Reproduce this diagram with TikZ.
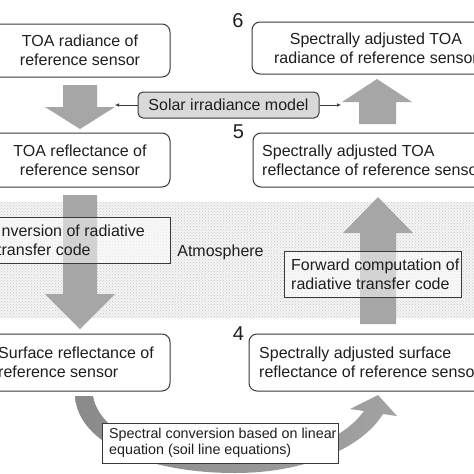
\documentclass[tikz,border=0pt]{standalone}
\usepackage{fontspec}
\setmainfont{Liberation Sans}
\usetikzlibrary{patterns,arrows.meta}
\definecolor{arrowgray}{HTML}{A6A6A6}
\definecolor{boxline}{HTML}{3A3A3A}
\definecolor{textcol}{HTML}{1E1E1E}
\definecolor{solarfill}{HTML}{D9D9D9}
\definecolor{curvedark}{HTML}{8A8A8A}
\definecolor{curvelight}{HTML}{F4F4F4}
\definecolor{curveright}{HTML}{A2A2A2}
\begin{document}
\begin{tikzpicture}[x=1pt,y=-1pt,
  txt/.style={font=\fontsize{16}{19}\selectfont, text=textcol, inner sep=0pt},
  rbox/.style={draw=boxline, line width=1pt, rounded corners=8pt, fill=white, inner sep=0pt},
  sbox/.style={draw=boxline, line width=1pt, fill=white, fill opacity=0.5, inner sep=0pt},
  blockarrow/.style={fill=arrowgray, draw=none},
  numlabel/.style={font=\fontsize{20}{20}\selectfont, text=textcol},
  thinarrow/.style={draw=boxline, line width=0.6pt, -{Latex[length=4pt,width=3.5pt]}}
]
\useasboundingbox (0,0) rectangle (474,474);
\clip (0,0) rectangle (474,474);

% atmosphere band
\fill[gray!9] (0,202) rectangle (474,318);
\fill[pattern=crosshatch dots, pattern color=gray!45] (0,202) rectangle (474,318);

% curved arrow (spectral conversion)
\path[left color=curvedark, middle color=curvelight, right color=curveright, draw=none]
  (75,396) .. controls (78,445) and (150,473) .. (235,473)
  .. controls (305,473) and (362,448) .. (383,414)
  -- (397,416) -- (378,395) -- (350,409) -- (364,411)
  .. controls (343,440) and (295,459) .. (235,460)
  .. controls (160,460) and (100,435) .. (93,396) -- cycle;

% block arrows
\fill[blockarrow] (63,85) -- (97,85) -- (97,107) -- (115,107) -- (80,129) -- (45,107) -- (63,107) -- cycle;
\fill[blockarrow] (63,195) -- (97,195) -- (97,294) -- (115,294) -- (80,329) -- (45,294) -- (63,294) -- cycle;
\fill[blockarrow] (359,124) -- (396,124) -- (396,102) -- (412,102) -- (377,79) -- (342,102) -- (359,102) -- cycle;
\fill[blockarrow] (360,324) -- (396,324) -- (396,233) -- (413,233) -- (378,197) -- (343,233) -- (360,233) -- cycle;

% rounded boxes
\node[rbox, minimum width=180pt, minimum height=53pt] (toarad) at (80,50.5) {};
\node[txt, align=center] (toaradT) at (toarad.center) {TOA radiance of\\reference sensor};

\node[rbox, minimum width=180pt, minimum height=54pt] (toarefl) at (80,160) {};
\node[txt, align=center] (toareflT) at (toarefl.center) {TOA reflectance of\\reference sensor};

\node[rbox, minimum width=248pt, minimum height=52pt] (adjrad) at (376,48) {};
\node[txt, align=center] (adjradT) at (adjrad.center) {Spectrally adjusted TOA\\radiance of reference sensor};

\node[rbox, minimum width=247pt, minimum height=54pt] (adjrefl) at (376.5,160) {};
\node[txt, align=left, anchor=west] (adjreflT) at (262,160) {Spectrally adjusted TOA\\reflectance of reference sensor};

\node[rbox, minimum width=182pt, minimum height=57pt] (surf) at (79,362.5) {};
\node[txt, align=left, anchor=west] (surfT) at (-2,362.5) {Surface reflectance of\\reference sensor};

\node[rbox, minimum width=251pt, minimum height=57pt] (adjsurf) at (374.5,362.5) {};
\node[txt, align=left, anchor=west] (adjsurfT) at (259,362.5) {Spectrally adjusted surface\\reflectance of reference sensor};

% semi-transparent boxes in the atmosphere
\node[sbox, minimum width=182pt, minimum height=46pt] (inv) at (79,240.5) {};
\node[txt, align=left, anchor=west] (invT) at (-3,240.5) {Inversion of radiative\\transfer code};

\node[sbox, minimum width=177pt, minimum height=46pt] (fwd) at (372.5,274) {};
\node[txt, align=left, anchor=west] (fwdT) at (291,274) {Forward computation of\\radiative transfer code};

% spectral conversion box
\node[draw=boxline, line width=1pt, fill=white, inner sep=0pt, minimum width=236pt, minimum height=40pt] (spec) at (220,443) {};
\node[align=left, anchor=west, inner sep=0pt, text=textcol, font=\fontsize{14.3}{16}\selectfont]
  (specT) at (109,443) {Spectral conversion based on linear\\equation (soil line equations)};

% solar irradiance model
\node[draw=boxline, line width=1pt, fill=solarfill, rounded corners=5pt, minimum width=181pt, minimum height=26pt,
  txt] (solar) at (228.5,105) {Solar irradiance model};

\node[txt] (atm) at (220.5,252) {Atmosphere};

% numbers
\node[numlabel] (n6) at (238,20.5) {6};
\node[numlabel] (n5) at (238.5,132) {5};
\node[numlabel] (n4) at (238.5,334) {4};

% solar connectors
\coordinate (solL) at (115,105);
\coordinate (solR) at (341,105);
\draw[thinarrow] (solar.west) -- (solL);
\draw[thinarrow] (solar.east) -- (solR);
\end{tikzpicture}
\end{document}
